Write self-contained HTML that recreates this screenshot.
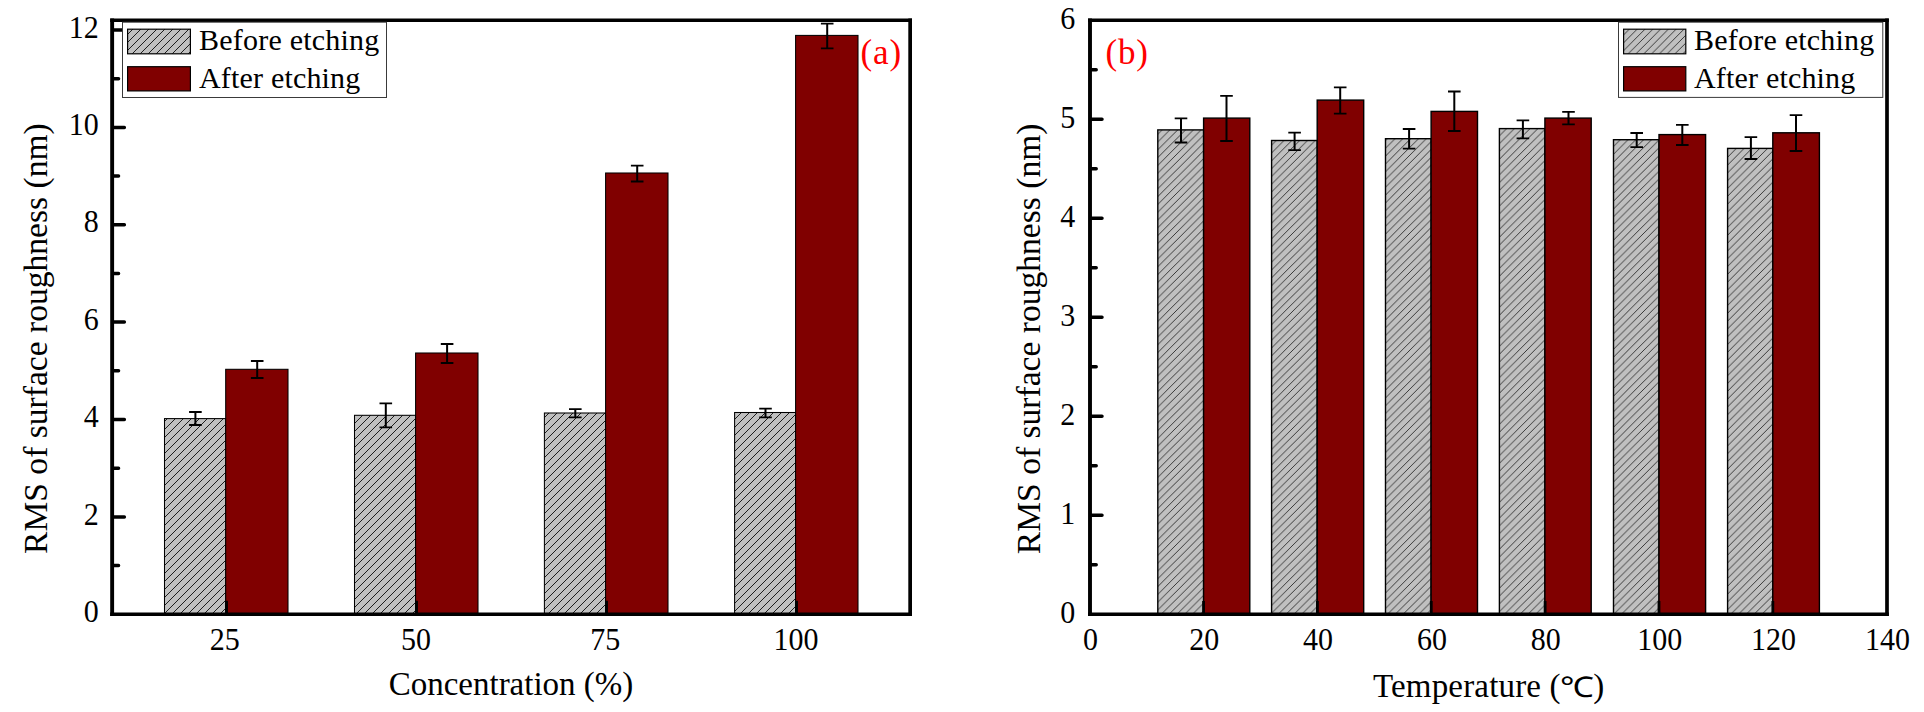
<!DOCTYPE html>
<html lang="en">
<head>
<meta charset="utf-8">
<title>RMS of surface roughness before and after etching</title>
<style>
html,body{margin:0;padding:0;background:#fff;}
body{width:1924px;height:712px;overflow:hidden;}
svg{display:block;}
svg text{font-family:"Liberation Serif", serif;fill:#000;}
</style>
</head>
<body>
<svg width="1924" height="712" viewBox="0 0 1924 712">
<defs>
<pattern id="hatch" patternUnits="userSpaceOnUse" x="2" y="0" width="8" height="8">
<rect x="0" y="0" width="8" height="8" fill="#c0c0c0"/>
<path d="M-2 10L10 -2M-2 2L2 -2M6 10L10 6" stroke="#000" stroke-width="0.85" fill="none"/>
</pattern>
<pattern id="hatchR" patternUnits="userSpaceOnUse" x="5" y="0" width="7.8" height="7.8">
<rect x="0" y="0" width="7.8" height="7.8" fill="#c0c0c0"/>
<path d="M-2 9.8L9.8 -2M-2 2L2 -2M5.8 9.8L9.8 5.8" stroke="#000" stroke-width="0.7" fill="none"/>
</pattern>
</defs>
<rect x="0" y="0" width="1924" height="712" fill="#fff"/>

<g id="chart-a">
<rect x="164.5" y="418.6" width="61.2" height="195.6" fill="url(#hatch)" stroke="#000" stroke-width="1.05"/>
<rect x="225.7" y="369.3" width="62.3" height="244.9" fill="#800000" stroke="#000" stroke-width="1.05"/>
<rect x="354.5" y="415.3" width="61.1" height="198.9" fill="url(#hatch)" stroke="#000" stroke-width="1.05"/>
<rect x="415.6" y="353.0" width="62.4" height="261.2" fill="#800000" stroke="#000" stroke-width="1.05"/>
<rect x="544.4" y="413.0" width="61.2" height="201.2" fill="url(#hatch)" stroke="#000" stroke-width="1.05"/>
<rect x="605.6" y="173.0" width="62.4" height="441.2" fill="#800000" stroke="#000" stroke-width="1.05"/>
<rect x="734.6" y="412.5" width="61.0" height="201.8" fill="url(#hatch)" stroke="#000" stroke-width="1.05"/>
<rect x="795.6" y="35.4" width="62.4" height="578.9" fill="#800000" stroke="#000" stroke-width="1.05"/>
<path d="M195.4 412.0V425.0" stroke="#000" stroke-width="2.0" fill="none"/>
<path d="M189.1 412.0H201.7M189.1 425.0H201.7" stroke="#000" stroke-width="1.8" fill="none"/>
<path d="M257.2 361.0V378.0" stroke="#000" stroke-width="2.0" fill="none"/>
<path d="M250.9 361.0H263.5M250.9 378.0H263.5" stroke="#000" stroke-width="1.8" fill="none"/>
<path d="M385.8 403.4V427.3" stroke="#000" stroke-width="2.0" fill="none"/>
<path d="M379.5 403.4H392.1M379.5 427.3H392.1" stroke="#000" stroke-width="1.8" fill="none"/>
<path d="M447.1 344.0V363.0" stroke="#000" stroke-width="2.0" fill="none"/>
<path d="M440.8 344.0H453.4M440.8 363.0H453.4" stroke="#000" stroke-width="1.8" fill="none"/>
<path d="M575.3 409.2V417.4" stroke="#000" stroke-width="2.0" fill="none"/>
<path d="M569.0 409.2H581.6M569.0 417.4H581.6" stroke="#000" stroke-width="1.8" fill="none"/>
<path d="M637.2 165.6V181.5" stroke="#000" stroke-width="2.0" fill="none"/>
<path d="M630.9 165.6H643.5M630.9 181.5H643.5" stroke="#000" stroke-width="1.8" fill="none"/>
<path d="M765.5 408.7V417.4" stroke="#000" stroke-width="2.0" fill="none"/>
<path d="M759.2 408.7H771.8M759.2 417.4H771.8" stroke="#000" stroke-width="1.8" fill="none"/>
<path d="M827.2 23.7V48.4" stroke="#000" stroke-width="2.0" fill="none"/>
<path d="M820.9 23.7H833.5M820.9 48.4H833.5" stroke="#000" stroke-width="1.8" fill="none"/>
<path d="M112.75 565.6h5.80M112.75 516.9h11.60M112.75 468.2h5.80M112.75 419.5h11.60M112.75 370.8h5.80M112.75 322.1h11.60M112.75 273.4h5.80M112.75 224.7h11.60M112.75 176.0h5.80M112.75 127.4h11.60M112.75 78.7h5.80M112.75 30.0h11.60" stroke="#000" stroke-width="3.5" stroke-linecap="round" fill="none"/>
<path d="M226.55 614.2V600.8M416.55 614.2V600.8M606.55 614.2V600.8M796.55 614.2V600.8" stroke="#000" stroke-width="2.8" fill="none"/>
<path d="M110.20 20.15H912.00" stroke="#000" stroke-width="3.5" fill="none"/>
<path d="M110.20 614.25H912.00" stroke="#000" stroke-width="3.3" fill="none"/>
<path d="M112.15 18.4V615.9" stroke="#000" stroke-width="3.9" fill="none"/>
<path d="M910.15 18.4V615.9" stroke="#000" stroke-width="3.7" fill="none"/>
<rect x="122.5" y="22.2" width="264.0" height="75.3" fill="#fff" stroke="#3a3a3a" stroke-width="1"/>
<rect x="127.6" y="29.2" width="62.80000000000001" height="24.6" fill="url(#hatch)" stroke="#000" stroke-width="1.2"/>
<rect x="127.6" y="66.7" width="62.80000000000001" height="24.2" fill="#800000" stroke="#000" stroke-width="1.2"/>
<text x="199" y="50.3" font-size="30" textLength="180.3" lengthAdjust="spacing">Before etching</text>
<text x="199" y="88.2" font-size="30" textLength="161.3" lengthAdjust="spacing">After etching</text>
<text transform="translate(98.8 621.9) scale(1 1.02)" font-size="30" text-anchor="end">0</text>
<text transform="translate(98.8 524.5) scale(1 1.02)" font-size="30" text-anchor="end">2</text>
<text transform="translate(98.8 427.1) scale(1 1.02)" font-size="30" text-anchor="end">4</text>
<text transform="translate(98.8 329.7) scale(1 1.02)" font-size="30" text-anchor="end">6</text>
<text transform="translate(98.8 232.3) scale(1 1.02)" font-size="30" text-anchor="end">8</text>
<text transform="translate(98.8 135.0) scale(1 1.02)" font-size="30" text-anchor="end">10</text>
<text transform="translate(98.8 37.6) scale(1 1.02)" font-size="30" text-anchor="end">12</text>
<text transform="translate(224.8 649.8) scale(1 1.02)" font-size="30" text-anchor="middle">25</text>
<text transform="translate(416.0 649.8) scale(1 1.02)" font-size="30" text-anchor="middle">50</text>
<text transform="translate(605.2 649.8) scale(1 1.02)" font-size="30" text-anchor="middle">75</text>
<text transform="translate(796.0 649.8) scale(1 1.02)" font-size="30" text-anchor="middle">100</text>
<text x="511" y="694.5" font-size="33" text-anchor="middle">Concentration (%)</text>
<text transform="translate(47.2 338.6) rotate(-90)" font-size="33.57" text-anchor="middle">RMS of surface roughness (nm)</text>
<text x="860.4" y="64.2" font-size="35" letter-spacing="0.9" style="fill:#ff0000">(a)</text>
</g>
<g id="chart-b">
<rect x="1157.8" y="129.9" width="45.8" height="484.4" fill="url(#hatchR)" stroke="#000" stroke-width="1.4"/>
<rect x="1203.6" y="118.1" width="46.2" height="496.1" fill="#800000" stroke="#000" stroke-width="1.4"/>
<rect x="1271.6" y="140.5" width="45.6" height="473.8" fill="url(#hatchR)" stroke="#000" stroke-width="1.4"/>
<rect x="1317.2" y="100.1" width="46.5" height="514.1" fill="#800000" stroke="#000" stroke-width="1.4"/>
<rect x="1385.5" y="138.7" width="45.6" height="475.6" fill="url(#hatchR)" stroke="#000" stroke-width="1.4"/>
<rect x="1431.1" y="111.4" width="46.4" height="502.9" fill="#800000" stroke="#000" stroke-width="1.4"/>
<rect x="1499.4" y="128.6" width="45.5" height="485.6" fill="url(#hatchR)" stroke="#000" stroke-width="1.4"/>
<rect x="1544.9" y="118.1" width="46.3" height="496.1" fill="#800000" stroke="#000" stroke-width="1.4"/>
<rect x="1613.5" y="139.7" width="45.5" height="474.6" fill="url(#hatchR)" stroke="#000" stroke-width="1.4"/>
<rect x="1659.0" y="134.6" width="46.6" height="479.6" fill="#800000" stroke="#000" stroke-width="1.4"/>
<rect x="1727.6" y="148.4" width="45.2" height="465.9" fill="url(#hatchR)" stroke="#000" stroke-width="1.4"/>
<rect x="1772.8" y="132.8" width="46.6" height="481.4" fill="#800000" stroke="#000" stroke-width="1.4"/>
<path d="M1181.0 118.4V142.5" stroke="#000" stroke-width="2.0" fill="none"/>
<path d="M1174.7 118.4H1187.3M1174.7 142.5H1187.3" stroke="#000" stroke-width="1.8" fill="none"/>
<path d="M1226.5 95.9V141.0" stroke="#000" stroke-width="2.0" fill="none"/>
<path d="M1220.2 95.9H1232.8M1220.2 141.0H1232.8" stroke="#000" stroke-width="1.8" fill="none"/>
<path d="M1294.6 132.7V150.2" stroke="#000" stroke-width="2.0" fill="none"/>
<path d="M1288.3 132.7H1300.9M1288.3 150.2H1300.9" stroke="#000" stroke-width="1.8" fill="none"/>
<path d="M1340.2 87.4V113.7" stroke="#000" stroke-width="2.0" fill="none"/>
<path d="M1333.9 87.4H1346.5M1333.9 113.7H1346.5" stroke="#000" stroke-width="1.8" fill="none"/>
<path d="M1409.1 129.0V148.7" stroke="#000" stroke-width="2.0" fill="none"/>
<path d="M1402.8 129.0H1415.4M1402.8 148.7H1415.4" stroke="#000" stroke-width="1.8" fill="none"/>
<path d="M1454.3 91.5V131.0" stroke="#000" stroke-width="2.0" fill="none"/>
<path d="M1448.0 91.5H1460.6M1448.0 131.0H1460.6" stroke="#000" stroke-width="1.8" fill="none"/>
<path d="M1522.9 120.4V138.3" stroke="#000" stroke-width="2.0" fill="none"/>
<path d="M1516.6 120.4H1529.2M1516.6 138.3H1529.2" stroke="#000" stroke-width="1.8" fill="none"/>
<path d="M1568.5 111.8V124.3" stroke="#000" stroke-width="2.0" fill="none"/>
<path d="M1562.2 111.8H1574.8M1562.2 124.3H1574.8" stroke="#000" stroke-width="1.8" fill="none"/>
<path d="M1636.7 133.0V147.2" stroke="#000" stroke-width="2.0" fill="none"/>
<path d="M1630.4 133.0H1643.0M1630.4 147.2H1643.0" stroke="#000" stroke-width="1.8" fill="none"/>
<path d="M1682.3 124.8V145.0" stroke="#000" stroke-width="2.0" fill="none"/>
<path d="M1676.0 124.8H1688.6M1676.0 145.0H1688.6" stroke="#000" stroke-width="1.8" fill="none"/>
<path d="M1750.9 137.1V159.0" stroke="#000" stroke-width="2.0" fill="none"/>
<path d="M1744.6 137.1H1757.2M1744.6 159.0H1757.2" stroke="#000" stroke-width="1.8" fill="none"/>
<path d="M1796.0 115.2V151.0" stroke="#000" stroke-width="2.0" fill="none"/>
<path d="M1789.7 115.2H1802.3M1789.7 151.0H1802.3" stroke="#000" stroke-width="1.8" fill="none"/>
<path d="M1090.60 564.8h5.60M1090.60 515.2h11.40M1090.60 465.8h5.60M1090.60 416.2h11.40M1090.60 366.8h5.60M1090.60 317.2h11.40M1090.60 267.8h5.60M1090.60 218.2h11.40M1090.60 168.8h5.60M1090.60 119.2h11.40M1090.60 69.8h5.60" stroke="#000" stroke-width="3.5" stroke-linecap="round" fill="none"/>
<path d="M1203.56 614.2V601M1317.41 614.2V601M1431.27 614.2V601M1545.13 614.2V601M1658.99 614.2V601M1772.84 614.2V601" stroke="#000" stroke-width="2.8" fill="none"/>
<path d="M1088.05 20.15H1888.85" stroke="#000" stroke-width="3.5" fill="none"/>
<path d="M1088.05 614.25H1888.85" stroke="#000" stroke-width="3.3" fill="none"/>
<path d="M1090.00 18.4V615.9" stroke="#000" stroke-width="3.9" fill="none"/>
<path d="M1887.00 18.4V615.9" stroke="#000" stroke-width="3.7" fill="none"/>
<rect x="1618.5" y="22.2" width="264.29999999999995" height="75.2" fill="#fff" stroke="#3a3a3a" stroke-width="1"/>
<rect x="1623.6" y="29.2" width="62.200000000000045" height="24.6" fill="url(#hatchR)" stroke="#000" stroke-width="1.2"/>
<rect x="1623.6" y="66.7" width="62.200000000000045" height="24.2" fill="#800000" stroke="#000" stroke-width="1.2"/>
<text x="1694" y="50.3" font-size="30" textLength="180.3" lengthAdjust="spacing">Before etching</text>
<text x="1694" y="88.2" font-size="30" textLength="161.3" lengthAdjust="spacing">After etching</text>
<text transform="translate(1075.2 622.6) scale(1 1.02)" font-size="30" text-anchor="end">0</text>
<text transform="translate(1075.2 523.6) scale(1 1.02)" font-size="30" text-anchor="end">1</text>
<text transform="translate(1075.2 424.6) scale(1 1.02)" font-size="30" text-anchor="end">2</text>
<text transform="translate(1075.2 325.6) scale(1 1.02)" font-size="30" text-anchor="end">3</text>
<text transform="translate(1075.2 226.7) scale(1 1.02)" font-size="30" text-anchor="end">4</text>
<text transform="translate(1075.2 127.7) scale(1 1.02)" font-size="30" text-anchor="end">5</text>
<text transform="translate(1075.2 28.6) scale(1 1.02)" font-size="30" text-anchor="end">6</text>
<text transform="translate(1090.4 649.8) scale(1 1.02)" font-size="30" text-anchor="middle">0</text>
<text transform="translate(1204.3 649.8) scale(1 1.02)" font-size="30" text-anchor="middle">20</text>
<text transform="translate(1318.1 649.8) scale(1 1.02)" font-size="30" text-anchor="middle">40</text>
<text transform="translate(1432.0 649.8) scale(1 1.02)" font-size="30" text-anchor="middle">60</text>
<text transform="translate(1545.8 649.8) scale(1 1.02)" font-size="30" text-anchor="middle">80</text>
<text transform="translate(1659.7 649.8) scale(1 1.02)" font-size="30" text-anchor="middle">100</text>
<text transform="translate(1773.5 649.8) scale(1 1.02)" font-size="30" text-anchor="middle">120</text>
<text transform="translate(1887.4 649.8) scale(1 1.02)" font-size="30" text-anchor="middle">140</text>
<text x="1560.6" y="696.5" font-size="33" text-anchor="end" textLength="187.6" lengthAdjust="spacing">Temperature (</text>
<text transform="translate(1560.2 696.6) scale(1.19 1)" font-family="'Noto Sans CJK SC', 'Liberation Sans', sans-serif" font-weight="300" font-size="28.5">℃</text>
<text x="1593.2" y="696.5" font-size="33">)</text>
<text transform="translate(1040 338.8) rotate(-90)" font-size="33.57" text-anchor="middle">RMS of surface roughness (nm)</text>
<text x="1105.4" y="64.2" font-size="35" letter-spacing="0.9" style="fill:#ff0000">(b)</text>
</g>
</svg>
</body>
</html>
